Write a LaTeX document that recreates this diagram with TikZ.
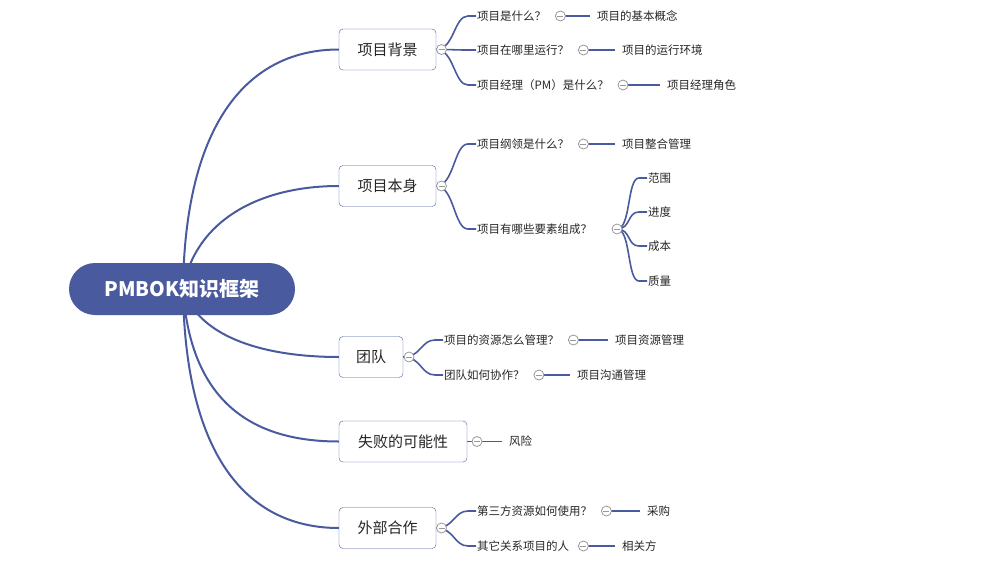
\documentclass[tikz,border=0pt]{standalone}
\usepackage{fontspec}
\setmainfont{Noto Sans CJK SC}
\begin{document}
\begin{tikzpicture}[x=1pt,y=-1pt,
  lc/.style={draw=lcol,line width=1.6pt},
  rootn/.style={rounded corners=26pt,fill=lcol,text=white,font=\fontsize{20}{22}\selectfont\bfseries,minimum width=226pt,minimum height=52pt,inner sep=0},
  br/.style={draw=lcol,rounded corners=4pt,fill=white,font=\fontsize{15}{18}\selectfont,minimum height=41pt,inner sep=0,text=black!85},
  it/.style={anchor=west,font=\fontsize{11.5}{14}\selectfont,inner xsep=1pt,inner ysep=0,text=black!85},
  col/.style={circle,draw=gray!80,fill=white,line width=0.8pt,minimum size=10pt,inner sep=0,
    path picture={\draw[gray!80,line width=0.8pt] ([xshift=-3pt]path picture bounding box.center) -- ([xshift=3pt]path picture bounding box.center);}},
  ]
\definecolor{lcol}{HTML}{4A5A9E}
\useasboundingbox (0,0) rectangle (991,562);
% branches
\node[br,minimum width=97pt] (b1) at (387.5,49.5) {项目背景};
\node[br,minimum width=97pt] (b2) at (387.5,186) {项目本身};
\node[br,minimum width=64pt] (b3) at (371,357) {团队};
\node[br,minimum width=128pt] (b4) at (403,441.5) {失败的可能性};
\node[br,minimum width=97pt] (b5) at (387.5,528) {外部合作};
\coordinate (r) at (183,289);
\draw[lc,line width=2pt] (r) .. controls (185,120) and (250,49.5) .. (b1.west);
\draw[lc,line width=2pt] (r) .. controls (195,220) and (260,186) .. (b2.west);
\draw[lc,line width=2pt] (r) .. controls (200,340) and (270,357) .. (b3.west);
\draw[lc,line width=2pt] (r) .. controls (190,400) and (250,441.5) .. (b4.west);
\draw[lc,line width=2pt] (r) .. controls (185,460) and (250,528) .. (b5.west);
\node[rootn] (root) at (182,289) {PMBOK知识框架};
% level 2 items
\node[it] (i1) at (476,16) {项目是什么？};
\node[it] (i2) at (476,50) {项目在哪里运行？};
\node[it] (i3) at (476,85) {项目经理（PM）是什么？};
\node[it] (i4) at (476,144) {项目纲领是什么？};
\node[it] (i5) at (476,229) {项目有哪些要素组成？};
\node[it] (i6) at (443,340) {项目的资源怎么管理？};
\node[it] (i7) at (443,375) {团队如何协作？};
\node[it] (i8) at (476,511) {第三方资源如何使用？};
\node[it] (i9) at (476,546) {其它关系项目的人};
% leaves
\node[it] (l1) at (596,16) {项目的基本概念};
\node[it] (l2) at (621,50) {项目的运行环境};
\node[it] (l3) at (666,85) {项目经理角色};
\node[it] (l4) at (621,144) {项目整合管理};
\node[it] (l5a) at (647,178) {范围};
\node[it] (l5b) at (647,212) {进度};
\node[it] (l5c) at (647,246) {成本};
\node[it] (l5d) at (647,281) {质量};
\node[it] (l6) at (614,340) {项目资源管理};
\node[it] (l7) at (576,375) {项目沟通管理};
\node[it] (l8) at (508,441.5) {风险};
\node[it] (l9) at (646,511) {采购};
\node[it] (l10) at (621,546) {相关方};
% branch-to-item curves
\foreach \b/\list in {b1/{i1,i2,i3},b2/{i4,i5},b3/{i6,i7},b5/{i8,i9}}{
  \foreach \i in \list{
    \draw[lc] (\b.east) .. controls +(18,0) and +(-14,0) .. ([xshift=-8pt]\i.west) -- (\i.west);
  }
}
\foreach \c in {a,b,c,d}{
  \draw[lc] (617,229) .. controls +(14,0) and +(-12,0) .. ([xshift=-8pt]l5\c.west) -- (l5\c.west);
}
% item-to-leaf lines
\foreach \i/\l in {i1/l1,i2/l2,i3/l3,i4/l4,i6/l6,i7/l7,i8/l9,i9/l10}{
  \draw[lc] ([xshift=8pt]\i.east) -- ([xshift=-6pt]\l.west);
}
\draw[lc] (b4.east) -- ([xshift=-6pt]l8.west);
% collapse circles
\node[col] (c1) at (441.5,49.5) {};
\node[col] (c2) at (441.5,186) {};
\node[col] (c3) at (409,357) {};
\node[col] (c4) at (477,441.5) {};
\node[col] (c5) at (441.5,528) {};
\node[col] (c6) at (617,229) {};
\foreach \i/\n in {i1/d1,i2/d2,i3/d3,i4/d4,i6/d6,i7/d7,i8/d8,i9/d9}{
  \node[col] (\n) at ([xshift=13pt]\i.east) {};
}
\end{tikzpicture}
\end{document}
